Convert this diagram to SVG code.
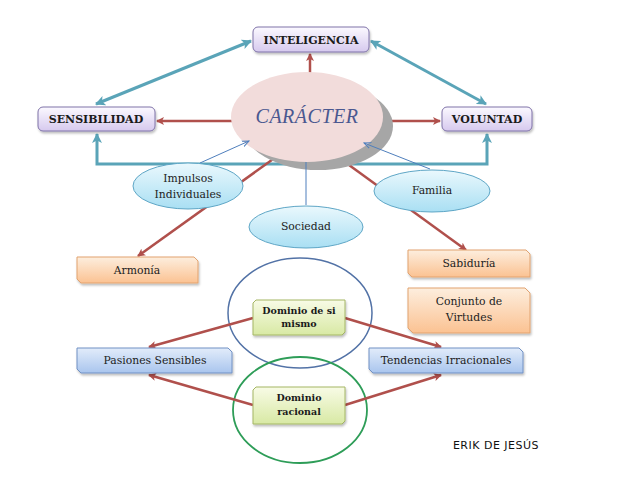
<svg xmlns="http://www.w3.org/2000/svg" width="638" height="493" viewBox="0 0 638 493">
<defs>
<linearGradient id="gLav" x1="0" y1="0" x2="0" y2="1"><stop offset="0" stop-color="#fbf9ff"/><stop offset="1" stop-color="#d6c9ee"/></linearGradient>
<linearGradient id="gBlueE" x1="0" y1="0" x2="0" y2="1"><stop offset="0" stop-color="#eaf8fd"/><stop offset="1" stop-color="#a9dff3"/></linearGradient>
<linearGradient id="gOr" x1="0" y1="0" x2="0" y2="1"><stop offset="0" stop-color="#fdeede"/><stop offset="1" stop-color="#fbc292"/></linearGradient>
<linearGradient id="gGr" x1="0" y1="0" x2="0" y2="1"><stop offset="0" stop-color="#f8fbe6"/><stop offset="1" stop-color="#d8e9a4"/></linearGradient>
<linearGradient id="gBl" x1="0" y1="0" x2="0" y2="1"><stop offset="0" stop-color="#e2ecfa"/><stop offset="1" stop-color="#a9c5ee"/></linearGradient>
<filter id="sh" x="-20%" y="-20%" width="140%" height="150%"><feDropShadow dx="1" dy="2" stdDeviation="1.2" flood-color="#000" flood-opacity="0.25"/></filter>
<marker id="mRed" markerWidth="8" markerHeight="8" refX="7" refY="4" orient="auto" markerUnits="userSpaceOnUse"><path d="M0,0 L8,4 L0,8 L2,4 z" fill="#b0504c"/></marker>
<marker id="mTeal" markerWidth="10" markerHeight="10" refX="9" refY="5" orient="auto-start-reverse" markerUnits="userSpaceOnUse"><path d="M0,0 L10,5 L0,10 L2.5,5 z" fill="#5aa4b8"/></marker>
<marker id="mBlue" markerWidth="8" markerHeight="8" refX="7" refY="4" orient="auto" markerUnits="userSpaceOnUse"><path d="M0,1 L7,4 L0,7" fill="none" stroke="#4f7fbd" stroke-width="1"/></marker>
</defs>
<style>
.red{stroke:#b0504c;stroke-width:2.5;fill:none;marker-end:url(#mRed)}
.teal{stroke:#5aa4b8;stroke-width:3;fill:none;marker-start:url(#mTeal);marker-end:url(#mTeal)}
.thin{stroke:#4f7fbd;stroke-width:1;fill:none;marker-end:url(#mBlue)}
.lav{fill:url(#gLav);stroke:#7f72a8;stroke-width:1;filter:url(#sh)}
.be{fill:url(#gBlueE);stroke:#5ea6c6;stroke-width:1}
.or{fill:url(#gOr);stroke:#e2a36f;stroke-width:1;filter:url(#sh)}
.gr{fill:url(#gGr);stroke:#a4b664;stroke-width:1;filter:url(#sh)}
.bl{fill:url(#gBl);stroke:#7191c4;stroke-width:1;filter:url(#sh)}
.tb{font-family:"DejaVu Serif","Liberation Serif",serif;font-weight:bold;font-size:11px;fill:#1a1a1a;text-anchor:middle}
.tn{font-family:"DejaVu Serif","Liberation Serif",serif;font-size:10.8px;fill:#222;text-anchor:middle}
.ts{font-family:"DejaVu Serif","Liberation Serif",serif;font-weight:bold;font-size:9.5px;fill:#1a1a1a;text-anchor:middle}
</style>
<rect width="638" height="493" fill="#fff"/>

<g id="circles">
<ellipse cx="300" cy="313" rx="72" ry="55" fill="none" stroke="#5272a6" stroke-width="1.5"/>
<ellipse cx="300" cy="410" rx="67" ry="53" fill="none" stroke="#2e9d58" stroke-width="1.8"/>
</g>

<g id="connectors">
<line class="teal" x1="96" y1="104" x2="251" y2="41"/>
<line class="teal" x1="371" y1="41" x2="486" y2="104"/>
<path class="teal" d="M97,134 L97,164 L487,164 L487,134"/>
<line class="red" x1="310" y1="82" x2="310" y2="54"/>
<line class="red" x1="232" y1="121" x2="157" y2="121"/>
<line class="red" x1="382" y1="121" x2="440" y2="121"/>
<line class="red" x1="276" y1="157" x2="138" y2="256"/>
<line class="red" x1="338" y1="157" x2="466" y2="250"/>
<line class="red" x1="253" y1="318" x2="149" y2="347"/>
<line class="red" x1="345" y1="318" x2="441" y2="347"/>
<line class="red" x1="253" y1="405" x2="149" y2="375"/>
<line class="red" x1="345" y1="405" x2="441" y2="375"/>
</g>

<g id="caracter">
<ellipse cx="318" cy="126" rx="75" ry="44" fill="#a6a6a6"/>
<ellipse cx="307" cy="117" rx="76" ry="45" fill="#f2dcdb"/>
<text x="307" y="123" font-family="'Liberation Serif','DejaVu Serif',serif" font-style="italic" font-size="20" fill="#4a5890" text-anchor="middle" letter-spacing="0.5">CARÁCTER</text>
</g>

<g id="thin-connectors">
<line class="thin" x1="200" y1="163" x2="249" y2="141"/>
<line x1="306" y1="205" x2="306" y2="162" stroke="#4f7fbd" stroke-width="1"/>
<line class="thin" x1="430" y1="169" x2="364" y2="143"/>
</g>

<g id="inteligencia"><rect class="lav" x="253" y="27" width="116" height="25" rx="5"/><text class="tb" x="311" y="44">INTELIGENCIA</text></g>
<g id="sensibilidad"><rect class="lav" x="38" y="107" width="117" height="24" rx="5"/><text class="tb" x="96" y="123">SENSIBILIDAD</text></g>
<g id="voluntad"><rect class="lav" x="442" y="107" width="90" height="24" rx="5"/><text class="tb" x="487" y="123">VOLUNTAD</text></g>

<g id="impulsos"><ellipse class="be" cx="188" cy="186" rx="55" ry="23"/><text class="tn" x="188" y="182">Impulsos</text><text class="tn" x="188" y="198">Individuales</text></g>
<g id="sociedad"><ellipse class="be" cx="306" cy="227" rx="57" ry="21"/><text class="tn" x="306" y="230">Sociedad</text></g>
<g id="familia"><ellipse class="be" cx="432" cy="191" rx="58" ry="21"/><text class="tn" x="432" y="194">Familia</text></g>

<g id="armonia"><path class="or" d="M77,257 H194 L198,261 V283 H81 L77,279 Z"/><text class="tn" x="137" y="274">Armonía</text></g>
<g id="sabiduria"><path class="or" d="M408,250 H526 L530,254 V277 H412 L408,273 Z"/><text class="tn" x="469" y="267">Sabiduría</text></g>
<g id="conjunto"><path class="or" d="M408,288 H525 L530,293 V333 H413 L408,328 Z"/><text class="tn" x="469" y="305">Conjunto de</text><text class="tn" x="469" y="321">Virtudes</text></g>

<g id="dominio-si"><path class="gr" d="M256,300 H345 V332 L342,335 H253 V303 Z"/><text class="ts" x="299" y="314">Dominio de si</text><text class="ts" x="299" y="327">mismo</text></g>
<g id="dominio-racional"><path class="gr" d="M256,387 H345 V421 L342,424 H253 V390 Z"/><text class="ts" x="299" y="401">Dominio</text><text class="ts" x="299" y="415">racional</text></g>

<g id="pasiones"><path class="bl" d="M77,348 H228 L232,352 V373 H81 L77,369 Z"/><text class="tn" x="155" y="364">Pasiones Sensibles</text></g>
<g id="tendencias"><path class="bl" d="M369,348 H519 L523,352 V373 H373 L369,369 Z"/><text class="tn" x="446" y="364">Tendencias Irracionales</text></g>

<text x="496" y="449" font-family="'DejaVu Sans','Liberation Sans',sans-serif" font-size="11" fill="#111" text-anchor="middle" letter-spacing="0.5">ERIK DE JESÚS</text>
</svg>
